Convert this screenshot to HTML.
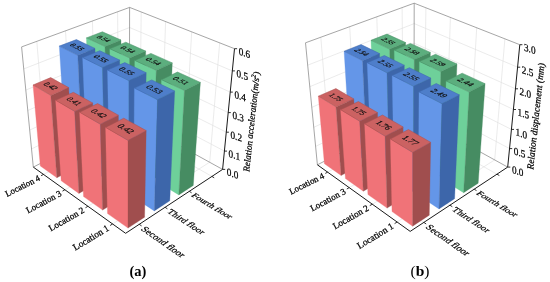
<!DOCTYPE html>
<html><head><meta charset="utf-8"><title>Figure</title>
<style>
html,body{margin:0;padding:0;background:#fff;}
svg{display:block;font-family:"Liberation Serif",serif;}
</style></head><body>
<svg width="550" height="282" viewBox="0 0 550 282">
<rect width="550" height="282" fill="#fff"/>
<g>
<polygon points="33.3,167.1 129.4,118.0 129.6,7.4 21.6,46.9" fill="#fff" stroke="none" stroke-width="0"/>
<polygon points="129.4,118.0 222.6,169.4 234.5,48.7 129.6,7.4" fill="#fff" stroke="none" stroke-width="0"/>
<polygon points="125.6,233.3 33.3,167.1 129.4,118.0 222.6,169.4" fill="#fff" stroke="none" stroke-width="0"/>
<line x1="46.7" y1="160.3" x2="36.8" y2="41.3" stroke="#dedede" stroke-width="0.6"/>
<line x1="209.7" y1="162.2" x2="219.7" y2="42.9" stroke="#dedede" stroke-width="0.6"/>
<line x1="112.5" y1="224.0" x2="209.7" y2="162.2" stroke="#dedede" stroke-width="0.6"/>
<line x1="139.2" y1="224.3" x2="46.7" y2="160.3" stroke="#dedede" stroke-width="0.6"/>
<line x1="72.1" y1="147.3" x2="65.5" y2="30.8" stroke="#dedede" stroke-width="0.6"/>
<line x1="184.9" y1="148.6" x2="191.7" y2="31.8" stroke="#dedede" stroke-width="0.6"/>
<line x1="87.9" y1="206.3" x2="184.9" y2="148.6" stroke="#dedede" stroke-width="0.6"/>
<line x1="165.1" y1="207.3" x2="72.1" y2="147.3" stroke="#dedede" stroke-width="0.6"/>
<line x1="96.0" y1="135.1" x2="92.4" y2="21.0" stroke="#dedede" stroke-width="0.6"/>
<line x1="161.7" y1="135.8" x2="165.6" y2="21.6" stroke="#dedede" stroke-width="0.6"/>
<line x1="64.9" y1="189.8" x2="161.7" y2="135.8" stroke="#dedede" stroke-width="0.6"/>
<line x1="189.3" y1="191.3" x2="96.0" y2="135.1" stroke="#dedede" stroke-width="0.6"/>
<line x1="118.6" y1="123.6" x2="117.6" y2="11.8" stroke="#dedede" stroke-width="0.6"/>
<line x1="139.9" y1="123.8" x2="141.2" y2="12.0" stroke="#dedede" stroke-width="0.6"/>
<line x1="43.5" y1="174.4" x2="139.9" y2="123.8" stroke="#dedede" stroke-width="0.6"/>
<line x1="211.9" y1="176.4" x2="118.6" y2="123.6" stroke="#dedede" stroke-width="0.6"/>
<line x1="31.6" y1="148.9" x2="129.4" y2="101.1" stroke="#dedede" stroke-width="0.6"/>
<line x1="129.4" y1="101.1" x2="224.4" y2="151.1" stroke="#dedede" stroke-width="0.6"/>
<line x1="29.7" y1="130.1" x2="129.5" y2="83.6" stroke="#dedede" stroke-width="0.6"/>
<line x1="129.5" y1="83.6" x2="226.3" y2="132.2" stroke="#dedede" stroke-width="0.6"/>
<line x1="27.8" y1="110.5" x2="129.5" y2="65.6" stroke="#dedede" stroke-width="0.6"/>
<line x1="129.5" y1="65.6" x2="228.2" y2="112.6" stroke="#dedede" stroke-width="0.6"/>
<line x1="25.8" y1="90.1" x2="129.5" y2="46.9" stroke="#dedede" stroke-width="0.6"/>
<line x1="129.5" y1="46.9" x2="230.2" y2="92.1" stroke="#dedede" stroke-width="0.6"/>
<line x1="23.8" y1="68.9" x2="129.6" y2="27.5" stroke="#dedede" stroke-width="0.6"/>
<line x1="129.6" y1="27.5" x2="232.3" y2="70.9" stroke="#dedede" stroke-width="0.6"/>
<line x1="33.3" y1="167.1" x2="21.6" y2="46.9" stroke="#7f7f7f" stroke-width="0.7"/>
<line x1="21.6" y1="46.9" x2="129.6" y2="7.4" stroke="#7f7f7f" stroke-width="0.7"/>
<line x1="129.6" y1="7.4" x2="234.5" y2="48.7" stroke="#7f7f7f" stroke-width="0.7"/>
<line x1="129.4" y1="118.0" x2="129.6" y2="7.4" stroke="#7f7f7f" stroke-width="0.7"/>
<line x1="33.3" y1="167.1" x2="129.4" y2="118.0" stroke="#7f7f7f" stroke-width="0.7"/>
<line x1="129.4" y1="118.0" x2="222.6" y2="169.4" stroke="#7f7f7f" stroke-width="0.7"/>
<polygon points="90.3,140.3 107.1,150.7 105.0,46.5 86.4,37.9" fill="#6ED09A" stroke="#6ED09A" stroke-width="0.3"/>
<polygon points="107.1,150.7 121.6,142.9 121.0,40.0 105.0,46.5" fill="#468C62" stroke="#468C62" stroke-width="0.3"/>
<polygon points="86.4,37.9 102.4,31.8 121.0,40.0 105.0,46.5" fill="#5CAE7E" stroke="#489066" stroke-width="0.5"/>
<text transform="matrix(0.6322,0.2878,-0.7010,0.2759,103.65,38.77)" x="0" y="3.3" font-size="10" text-anchor="middle" fill="#111" stroke="#111" stroke-width="0.3">0.54</text>
<polygon points="111.5,153.4 129.5,164.5 129.7,58.0 109.8,48.8" fill="#6ED09A" stroke="#6ED09A" stroke-width="0.3"/>
<polygon points="129.5,164.5 144.0,156.2 145.7,51.1 129.7,58.0" fill="#468C62" stroke="#468C62" stroke-width="0.3"/>
<polygon points="109.8,48.8 125.8,42.2 145.7,51.1 129.7,58.0" fill="#5CAE7E" stroke="#489066" stroke-width="0.5"/>
<text transform="matrix(0.6777,0.3085,-0.7036,0.2957,127.68,49.71)" x="0" y="3.3" font-size="10" text-anchor="middle" fill="#111" stroke="#111" stroke-width="0.3">0.54</text>
<polygon points="134.1,167.3 153.3,179.2 156.2,70.4 134.8,60.4" fill="#6ED09A" stroke="#6ED09A" stroke-width="0.3"/>
<polygon points="153.3,179.2 167.8,170.3 172.3,62.9 156.2,70.4" fill="#468C62" stroke="#468C62" stroke-width="0.3"/>
<polygon points="134.8,60.4 150.9,53.4 172.3,62.9 156.2,70.4" fill="#5CAE7E" stroke="#489066" stroke-width="0.5"/>
<text transform="matrix(0.7283,0.3316,-0.7047,0.3177,153.47,61.45)" x="0" y="3.3" font-size="10" text-anchor="middle" fill="#111" stroke="#111" stroke-width="0.3">0.54</text>
<polygon points="158.2,182.2 178.8,194.9 184.4,90.5 161.5,79.7" fill="#6ED09A" stroke="#6ED09A" stroke-width="0.3"/>
<polygon points="178.8,194.9 193.3,185.4 200.4,82.4 184.4,90.5" fill="#468C62" stroke="#468C62" stroke-width="0.3"/>
<polygon points="161.5,79.7 177.5,72.0 200.4,82.4 184.4,90.5" fill="#5CAE7E" stroke="#489066" stroke-width="0.5"/>
<text transform="matrix(0.7794,0.3619,-0.6997,0.3468,180.89,80.82)" x="0" y="3.3" font-size="10" text-anchor="middle" fill="#111" stroke="#111" stroke-width="0.3">0.51</text>
<polygon points="66.0,152.8 82.8,163.8 77.8,55.3 59.3,46.1" fill="#6496E8" stroke="#6496E8" stroke-width="0.3"/>
<polygon points="82.8,163.8 98.2,155.5 95.0,48.4 77.8,55.3" fill="#3D66AA" stroke="#3D66AA" stroke-width="0.3"/>
<polygon points="59.3,46.1 76.4,39.6 95.0,48.4 77.8,55.3" fill="#4E7ECA" stroke="#3F69AE" stroke-width="0.5"/>
<text transform="matrix(0.6293,0.3060,-0.7505,0.2933,77.09,47.03)" x="0" y="3.3" font-size="10" text-anchor="middle" fill="#111" stroke="#111" stroke-width="0.3">0.55</text>
<polygon points="87.1,166.7 105.0,178.5 102.4,67.5 82.6,57.6" fill="#6496E8" stroke="#6496E8" stroke-width="0.3"/>
<polygon points="105.0,178.5 120.5,169.6 119.7,60.1 102.4,67.5" fill="#3D66AA" stroke="#3D66AA" stroke-width="0.3"/>
<polygon points="82.6,57.6 99.8,50.7 119.7,60.1 102.4,67.5" fill="#4E7ECA" stroke="#3F69AE" stroke-width="0.5"/>
<text transform="matrix(0.6762,0.3289,-0.7550,0.3152,101.03,58.67)" x="0" y="3.3" font-size="10" text-anchor="middle" fill="#111" stroke="#111" stroke-width="0.3">0.55</text>
<polygon points="109.6,181.5 128.8,194.1 128.9,80.7 107.5,70.1" fill="#6496E8" stroke="#6496E8" stroke-width="0.3"/>
<polygon points="128.8,194.1 144.3,184.7 146.2,72.7 128.9,80.7" fill="#3D66AA" stroke="#3D66AA" stroke-width="0.3"/>
<polygon points="107.5,70.1 124.8,62.6 146.2,72.7 128.9,80.7" fill="#4E7ECA" stroke="#3F69AE" stroke-width="0.5"/>
<text transform="matrix(0.7287,0.3544,-0.7581,0.3396,126.80,71.21)" x="0" y="3.3" font-size="10" text-anchor="middle" fill="#111" stroke="#111" stroke-width="0.3">0.55</text>
<polygon points="133.7,197.4 154.3,210.9 157.5,99.7 134.4,88.1" fill="#6496E8" stroke="#6496E8" stroke-width="0.3"/>
<polygon points="154.3,210.9 169.8,200.8 174.7,91.0 157.5,99.7" fill="#3D66AA" stroke="#3D66AA" stroke-width="0.3"/>
<polygon points="134.4,88.1 151.7,79.9 174.7,91.0 157.5,99.7" fill="#4E7ECA" stroke="#3F69AE" stroke-width="0.5"/>
<text transform="matrix(0.7839,0.3863,-0.7561,0.3701,154.49,89.37)" x="0" y="3.3" font-size="10" text-anchor="middle" fill="#111" stroke="#111" stroke-width="0.3">0.53</text>
<polygon points="40.3,166.0 56.9,177.8 50.8,95.4 33.0,85.0" fill="#F07378" stroke="#F07378" stroke-width="0.3"/>
<polygon points="56.9,177.8 73.3,168.9 68.7,87.6 50.8,95.4" fill="#A04E4E" stroke="#A04E4E" stroke-width="0.3"/>
<polygon points="33.0,85.0 50.7,77.6 68.7,87.6 50.8,95.4" fill="#CB6262" stroke="#A85050" stroke-width="0.5"/>
<text transform="matrix(0.6088,0.3464,-0.7809,0.3319,50.77,86.08)" x="0" y="3.3" font-size="10" text-anchor="middle" fill="#111" stroke="#111" stroke-width="0.3">0.42</text>
<polygon points="61.2,180.8 78.9,193.4 74.7,111.4 55.6,100.2" fill="#F07378" stroke="#F07378" stroke-width="0.3"/>
<polygon points="78.9,193.4 95.4,183.9 92.7,103.0 74.7,111.4" fill="#A04E4E" stroke="#A04E4E" stroke-width="0.3"/>
<polygon points="55.6,100.2 73.4,92.3 92.7,103.0 74.7,111.4" fill="#CB6262" stroke="#A85050" stroke-width="0.5"/>
<text transform="matrix(0.6534,0.3738,-0.7857,0.3582,74.06,101.40)" x="0" y="3.3" font-size="10" text-anchor="middle" fill="#111" stroke="#111" stroke-width="0.3">0.41</text>
<polygon points="83.5,196.6 102.6,210.1 100.3,124.2 79.6,112.2" fill="#F07378" stroke="#F07378" stroke-width="0.3"/>
<polygon points="102.6,210.1 119.2,200.0 118.4,115.2 100.3,124.2" fill="#A04E4E" stroke="#A04E4E" stroke-width="0.3"/>
<polygon points="79.6,112.2 97.6,103.6 118.4,115.2 100.3,124.2" fill="#CB6262" stroke="#A85050" stroke-width="0.5"/>
<text transform="matrix(0.7058,0.4016,-0.7926,0.3848,98.90,113.46)" x="0" y="3.3" font-size="10" text-anchor="middle" fill="#111" stroke="#111" stroke-width="0.3">0.42</text>
<polygon points="107.5,213.6 128.0,228.1 128.0,140.4 105.6,127.4" fill="#F07378" stroke="#F07378" stroke-width="0.3"/>
<polygon points="128.0,228.1 144.6,217.2 146.2,130.6 128.0,140.4" fill="#A04E4E" stroke="#A04E4E" stroke-width="0.3"/>
<polygon points="105.6,127.4 123.8,118.2 146.2,130.6 128.0,140.4" fill="#CB6262" stroke="#A85050" stroke-width="0.5"/>
<text transform="matrix(0.7633,0.4343,-0.7961,0.4161,125.84,128.79)" x="0" y="3.3" font-size="10" text-anchor="middle" fill="#111" stroke="#111" stroke-width="0.3">0.42</text>
<line x1="33.3" y1="167.1" x2="125.6" y2="233.3" stroke="#1a1a1a" stroke-width="1"/>
<line x1="125.6" y1="233.3" x2="222.6" y2="169.4" stroke="#1a1a1a" stroke-width="1"/>
<line x1="222.6" y1="169.4" x2="234.5" y2="48.7" stroke="#1a1a1a" stroke-width="1"/>
<line x1="112.5" y1="224.0" x2="110.1" y2="225.5" stroke="#1a1a1a" stroke-width="0.9"/>
<text transform="translate(109.7,229.8) rotate(-31.4)" font-size="9.40" text-anchor="end" stroke="#000" stroke-width="0.25">Location 1</text>
<line x1="139.2" y1="224.3" x2="141.6" y2="225.9" stroke="#1a1a1a" stroke-width="0.9"/>
<text transform="matrix(0.7920,0.5526,-0.7941,0.5294,140.37,229.50)" font-size="10"  stroke="#000" stroke-width="0.25">Second floor</text>
<line x1="87.9" y1="206.3" x2="85.5" y2="207.7" stroke="#1a1a1a" stroke-width="0.9"/>
<text transform="translate(85.1,212.0) rotate(-29.7)" font-size="9.17" text-anchor="end" stroke="#000" stroke-width="0.25">Location 2</text>
<line x1="165.1" y1="207.3" x2="167.4" y2="208.8" stroke="#1a1a1a" stroke-width="0.9"/>
<text transform="matrix(0.7923,0.5147,-0.7399,0.4933,166.48,212.09)" font-size="10"  stroke="#000" stroke-width="0.25">Third floor</text>
<line x1="64.9" y1="189.8" x2="62.5" y2="191.1" stroke="#1a1a1a" stroke-width="0.9"/>
<text transform="translate(62.1,195.4) rotate(-28.1)" font-size="8.96" text-anchor="end" stroke="#000" stroke-width="0.25">Location 3</text>
<line x1="189.3" y1="191.3" x2="191.6" y2="192.8" stroke="#1a1a1a" stroke-width="0.9"/>
<text transform="matrix(0.7907,0.4807,-0.6910,0.4607,190.83,195.86)" font-size="10"  stroke="#000" stroke-width="0.25">Fourth floor</text>
<line x1="43.5" y1="174.4" x2="41.1" y2="175.7" stroke="#1a1a1a" stroke-width="0.9"/>
<text transform="translate(40.7,180.0) rotate(-26.7)" font-size="8.77" text-anchor="end" stroke="#000" stroke-width="0.25">Location 4</text>
<line x1="211.9" y1="176.4" x2="214.2" y2="177.8" stroke="#1a1a1a" stroke-width="0.9"/>
<line x1="222.6" y1="169.4" x2="225.2" y2="169.4" stroke="#1a1a1a" stroke-width="0.9"/>
<text transform="matrix(0.87,0.29,0,1,226.8,175.1)" font-size="10.6" stroke="#000" stroke-width="0.25">0.0</text>
<line x1="224.4" y1="151.1" x2="227.0" y2="151.1" stroke="#1a1a1a" stroke-width="0.9"/>
<text transform="matrix(0.87,0.29,0,1,228.6,156.8)" font-size="10.6" stroke="#000" stroke-width="0.25">0.1</text>
<line x1="226.3" y1="132.2" x2="228.9" y2="132.2" stroke="#1a1a1a" stroke-width="0.9"/>
<text transform="matrix(0.87,0.29,0,1,230.5,137.9)" font-size="10.6" stroke="#000" stroke-width="0.25">0.2</text>
<line x1="228.2" y1="112.6" x2="230.8" y2="112.6" stroke="#1a1a1a" stroke-width="0.9"/>
<text transform="matrix(0.87,0.29,0,1,232.4,118.3)" font-size="10.6" stroke="#000" stroke-width="0.25">0.3</text>
<line x1="230.2" y1="92.1" x2="232.8" y2="92.1" stroke="#1a1a1a" stroke-width="0.9"/>
<text transform="matrix(0.87,0.29,0,1,234.4,97.8)" font-size="10.6" stroke="#000" stroke-width="0.25">0.4</text>
<line x1="232.3" y1="70.9" x2="234.9" y2="70.9" stroke="#1a1a1a" stroke-width="0.9"/>
<text transform="matrix(0.87,0.29,0,1,236.5,76.6)" font-size="10.6" stroke="#000" stroke-width="0.25">0.5</text>
<line x1="234.5" y1="48.7" x2="237.1" y2="48.7" stroke="#1a1a1a" stroke-width="0.9"/>
<text transform="matrix(0.87,0.29,0,1,238.7,54.4)" font-size="10.6" stroke="#000" stroke-width="0.25">0.6</text>
<text transform="translate(254.4,122.0) rotate(-84)" font-size="9.1" font-style="italic" text-anchor="middle" stroke="#000" stroke-width="0.25">Relation acceleration(m/s<tspan font-size="6.5" dy="-3.5">2</tspan><tspan dy="3.5">)</tspan></text>
</g>
<g>
<polygon points="317.4,164.8 414.0,115.4 414.2,3.2 305.5,42.8" fill="#fff" stroke="none" stroke-width="0"/>
<polygon points="414.0,115.4 507.7,167.1 519.8,44.7 414.2,3.2" fill="#fff" stroke="none" stroke-width="0"/>
<polygon points="410.2,231.4 317.4,164.8 414.0,115.4 507.7,167.1" fill="#fff" stroke="none" stroke-width="0"/>
<line x1="330.8" y1="157.9" x2="320.8" y2="37.3" stroke="#dedede" stroke-width="0.6"/>
<line x1="494.7" y1="159.9" x2="504.9" y2="38.8" stroke="#dedede" stroke-width="0.6"/>
<line x1="397.1" y1="222.0" x2="494.7" y2="159.9" stroke="#dedede" stroke-width="0.6"/>
<line x1="423.9" y1="222.4" x2="330.8" y2="157.9" stroke="#dedede" stroke-width="0.6"/>
<line x1="356.4" y1="144.9" x2="349.7" y2="26.7" stroke="#dedede" stroke-width="0.6"/>
<line x1="469.8" y1="146.2" x2="476.7" y2="27.8" stroke="#dedede" stroke-width="0.6"/>
<line x1="372.3" y1="204.2" x2="469.8" y2="146.2" stroke="#dedede" stroke-width="0.6"/>
<line x1="449.9" y1="205.2" x2="356.4" y2="144.9" stroke="#dedede" stroke-width="0.6"/>
<line x1="380.5" y1="132.6" x2="376.8" y2="16.9" stroke="#dedede" stroke-width="0.6"/>
<line x1="446.5" y1="133.3" x2="450.4" y2="17.4" stroke="#dedede" stroke-width="0.6"/>
<line x1="349.2" y1="187.6" x2="446.5" y2="133.3" stroke="#dedede" stroke-width="0.6"/>
<line x1="474.2" y1="189.2" x2="380.5" y2="132.6" stroke="#dedede" stroke-width="0.6"/>
<line x1="403.2" y1="121.0" x2="402.1" y2="7.6" stroke="#dedede" stroke-width="0.6"/>
<line x1="424.5" y1="121.2" x2="425.9" y2="7.8" stroke="#dedede" stroke-width="0.6"/>
<line x1="327.7" y1="172.1" x2="424.5" y2="121.2" stroke="#dedede" stroke-width="0.6"/>
<line x1="496.9" y1="174.2" x2="403.2" y2="121.0" stroke="#dedede" stroke-width="0.6"/>
<line x1="315.6" y1="146.4" x2="414.1" y2="98.3" stroke="#dedede" stroke-width="0.6"/>
<line x1="414.1" y1="98.3" x2="509.6" y2="148.6" stroke="#dedede" stroke-width="0.6"/>
<line x1="313.8" y1="127.3" x2="414.1" y2="80.6" stroke="#dedede" stroke-width="0.6"/>
<line x1="414.1" y1="80.6" x2="511.4" y2="129.4" stroke="#dedede" stroke-width="0.6"/>
<line x1="311.8" y1="107.4" x2="414.1" y2="62.2" stroke="#dedede" stroke-width="0.6"/>
<line x1="414.1" y1="62.2" x2="513.4" y2="109.5" stroke="#dedede" stroke-width="0.6"/>
<line x1="309.8" y1="86.7" x2="414.1" y2="43.2" stroke="#dedede" stroke-width="0.6"/>
<line x1="414.1" y1="43.2" x2="515.4" y2="88.8" stroke="#dedede" stroke-width="0.6"/>
<line x1="307.7" y1="65.2" x2="414.2" y2="23.6" stroke="#dedede" stroke-width="0.6"/>
<line x1="414.2" y1="23.6" x2="517.6" y2="67.2" stroke="#dedede" stroke-width="0.6"/>
<line x1="317.4" y1="164.8" x2="305.5" y2="42.8" stroke="#7f7f7f" stroke-width="0.7"/>
<line x1="305.5" y1="42.8" x2="414.2" y2="3.2" stroke="#7f7f7f" stroke-width="0.7"/>
<line x1="414.2" y1="3.2" x2="519.8" y2="44.7" stroke="#7f7f7f" stroke-width="0.7"/>
<line x1="414.0" y1="115.4" x2="414.2" y2="3.2" stroke="#7f7f7f" stroke-width="0.7"/>
<line x1="317.4" y1="164.8" x2="414.0" y2="115.4" stroke="#7f7f7f" stroke-width="0.7"/>
<line x1="414.0" y1="115.4" x2="507.7" y2="167.1" stroke="#7f7f7f" stroke-width="0.7"/>
<polygon points="374.7,137.8 391.6,148.3 389.6,49.1 371.0,40.3" fill="#6ED09A" stroke="#6ED09A" stroke-width="0.3"/>
<polygon points="391.6,148.3 406.2,140.5 405.6,42.5 389.6,49.1" fill="#468C62" stroke="#468C62" stroke-width="0.3"/>
<polygon points="371.0,40.3 387.0,34.1 405.6,42.5 389.6,49.1" fill="#5CAE7E" stroke="#489066" stroke-width="0.5"/>
<text transform="matrix(0.6326,0.2934,-0.7012,0.2812,388.24,41.19)" x="0" y="3.3" font-size="10" text-anchor="middle" fill="#111" stroke="#111" stroke-width="0.3">2.55</text>
<polygon points="396.0,151.0 414.1,162.2 414.3,59.5 394.3,50.1" fill="#6ED09A" stroke="#6ED09A" stroke-width="0.3"/>
<polygon points="414.1,162.2 428.7,153.8 430.4,52.4 414.3,59.5" fill="#468C62" stroke="#468C62" stroke-width="0.3"/>
<polygon points="394.3,50.1 410.4,43.4 430.4,52.4 414.3,59.5" fill="#5CAE7E" stroke="#489066" stroke-width="0.5"/>
<text transform="matrix(0.6787,0.3135,-0.7046,0.3005,412.28,51.05)" x="0" y="3.3" font-size="10" text-anchor="middle" fill="#111" stroke="#111" stroke-width="0.3">2.58</text>
<polygon points="418.7,165.0 438.0,176.9 440.8,71.6 419.4,61.5" fill="#6ED09A" stroke="#6ED09A" stroke-width="0.3"/>
<polygon points="438.0,176.9 452.6,168.0 457.0,64.0 440.8,71.6" fill="#468C62" stroke="#468C62" stroke-width="0.3"/>
<polygon points="419.4,61.5 435.5,54.3 457.0,64.0 440.8,71.6" fill="#5CAE7E" stroke="#489066" stroke-width="0.5"/>
<text transform="matrix(0.7294,0.3365,-0.7059,0.3225,438.11,62.54)" x="0" y="3.3" font-size="10" text-anchor="middle" fill="#111" stroke="#111" stroke-width="0.3">2.59</text>
<polygon points="443.0,180.0 463.6,192.7 469.1,92.0 446.2,81.0" fill="#6ED09A" stroke="#6ED09A" stroke-width="0.3"/>
<polygon points="463.6,192.7 478.2,183.2 485.1,83.7 469.1,92.0" fill="#468C62" stroke="#468C62" stroke-width="0.3"/>
<polygon points="446.2,81.0 462.2,73.2 485.1,83.7 469.1,92.0" fill="#5CAE7E" stroke="#489066" stroke-width="0.5"/>
<text transform="matrix(0.7803,0.3671,-0.7010,0.3518,465.56,82.14)" x="0" y="3.3" font-size="10" text-anchor="middle" fill="#111" stroke="#111" stroke-width="0.3">2.44</text>
<polygon points="350.3,150.4 367.2,161.5 362.5,60.7 344.1,51.3" fill="#6496E8" stroke="#6496E8" stroke-width="0.3"/>
<polygon points="367.2,161.5 382.6,153.2 379.6,53.6 362.5,60.7" fill="#3D66AA" stroke="#3D66AA" stroke-width="0.3"/>
<polygon points="344.1,51.3 361.1,44.6 379.6,53.6 362.5,60.7" fill="#4E7ECA" stroke="#3F69AE" stroke-width="0.5"/>
<text transform="matrix(0.6283,0.3137,-0.7485,0.3006,361.80,52.24)" x="0" y="3.3" font-size="10" text-anchor="middle" fill="#111" stroke="#111" stroke-width="0.3">2.54</text>
<polygon points="371.5,164.4 389.5,176.2 387.0,72.8 367.2,62.7" fill="#6496E8" stroke="#6496E8" stroke-width="0.3"/>
<polygon points="389.5,176.2 405.0,167.3 404.3,65.2 387.0,72.8" fill="#3D66AA" stroke="#3D66AA" stroke-width="0.3"/>
<polygon points="367.2,62.7 384.4,55.5 404.3,65.2 387.0,72.8" fill="#4E7ECA" stroke="#3F69AE" stroke-width="0.5"/>
<text transform="matrix(0.6751,0.3366,-0.7533,0.3225,385.69,63.73)" x="0" y="3.3" font-size="10" text-anchor="middle" fill="#111" stroke="#111" stroke-width="0.3">2.55</text>
<polygon points="394.1,179.3 413.4,192.0 413.5,86.3 392.2,75.4" fill="#6496E8" stroke="#6496E8" stroke-width="0.3"/>
<polygon points="413.4,192.0 429.0,182.5 430.8,78.1 413.5,86.3" fill="#3D66AA" stroke="#3D66AA" stroke-width="0.3"/>
<polygon points="392.2,75.4 409.4,67.7 430.8,78.1 413.5,86.3" fill="#4E7ECA" stroke="#3F69AE" stroke-width="0.5"/>
<text transform="matrix(0.7270,0.3625,-0.7564,0.3473,411.41,76.55)" x="0" y="3.3" font-size="10" text-anchor="middle" fill="#111" stroke="#111" stroke-width="0.3">2.55</text>
<polygon points="418.4,195.3 439.0,208.9 442.0,103.7 419.0,91.9" fill="#6496E8" stroke="#6496E8" stroke-width="0.3"/>
<polygon points="439.0,208.9 454.6,198.7 459.3,94.8 442.0,103.7" fill="#3D66AA" stroke="#3D66AA" stroke-width="0.3"/>
<polygon points="419.0,91.9 436.3,83.5 459.3,94.8 442.0,103.7" fill="#4E7ECA" stroke="#3F69AE" stroke-width="0.5"/>
<text transform="matrix(0.7830,0.3934,-0.7557,0.3769,439.07,93.16)" x="0" y="3.3" font-size="10" text-anchor="middle" fill="#111" stroke="#111" stroke-width="0.3">2.49</text>
<polygon points="324.4,163.7 341.1,175.5 336.0,106.9 318.3,96.2" fill="#F07378" stroke="#F07378" stroke-width="0.3"/>
<polygon points="341.1,175.5 357.6,166.6 353.8,98.9 336.0,106.9" fill="#A04E4E" stroke="#A04E4E" stroke-width="0.3"/>
<polygon points="318.3,96.2 335.9,88.6 353.8,98.9 336.0,106.9" fill="#CB6262" stroke="#A85050" stroke-width="0.5"/>
<text transform="matrix(0.6049,0.3575,-0.7737,0.3426,335.99,97.31)" x="0" y="3.3" font-size="10" text-anchor="middle" fill="#111" stroke="#111" stroke-width="0.3">1.75</text>
<polygon points="345.4,178.6 363.3,191.2 359.7,121.2 340.6,109.7" fill="#F07378" stroke="#F07378" stroke-width="0.3"/>
<polygon points="363.3,191.2 379.9,181.7 377.5,112.6 359.7,121.2" fill="#A04E4E" stroke="#A04E4E" stroke-width="0.3"/>
<polygon points="340.6,109.7 358.4,101.5 377.5,112.6 359.7,121.2" fill="#CB6262" stroke="#A85050" stroke-width="0.5"/>
<text transform="matrix(0.6498,0.3840,-0.7800,0.3679,359.01,110.91)" x="0" y="3.3" font-size="10" text-anchor="middle" fill="#111" stroke="#111" stroke-width="0.3">1.75</text>
<polygon points="367.9,194.5 387.1,208.1 385.1,136.2 364.6,123.8" fill="#F07378" stroke="#F07378" stroke-width="0.3"/>
<polygon points="387.1,208.1 403.7,197.9 403.1,126.9 385.1,136.2" fill="#A04E4E" stroke="#A04E4E" stroke-width="0.3"/>
<polygon points="364.6,123.8 382.5,115.0 403.1,126.9 385.1,136.2" fill="#CB6262" stroke="#A85050" stroke-width="0.5"/>
<text transform="matrix(0.7002,0.4133,-0.7854,0.3960,383.75,125.11)" x="0" y="3.3" font-size="10" text-anchor="middle" fill="#111" stroke="#111" stroke-width="0.3">1.76</text>
<polygon points="392.0,211.6 412.6,226.2 412.6,152.4 390.4,139.0" fill="#F07378" stroke="#F07378" stroke-width="0.3"/>
<polygon points="412.6,226.2 429.3,215.2 430.7,142.3 412.6,152.4" fill="#A04E4E" stroke="#A04E4E" stroke-width="0.3"/>
<polygon points="390.4,139.0 408.4,129.5 430.7,142.3 412.6,152.4" fill="#CB6262" stroke="#A85050" stroke-width="0.5"/>
<text transform="matrix(0.7566,0.4462,-0.7891,0.4274,410.46,140.43)" x="0" y="3.3" font-size="10" text-anchor="middle" fill="#111" stroke="#111" stroke-width="0.3">1.77</text>
<line x1="317.4" y1="164.8" x2="410.2" y2="231.4" stroke="#1a1a1a" stroke-width="1"/>
<line x1="410.2" y1="231.4" x2="507.7" y2="167.1" stroke="#1a1a1a" stroke-width="1"/>
<line x1="507.7" y1="167.1" x2="519.8" y2="44.7" stroke="#1a1a1a" stroke-width="1"/>
<line x1="397.1" y1="222.0" x2="394.6" y2="223.6" stroke="#1a1a1a" stroke-width="0.9"/>
<text transform="translate(394.2,227.9) rotate(-31.5)" font-size="9.45" text-anchor="end" stroke="#000" stroke-width="0.25">Location 1</text>
<line x1="423.9" y1="222.4" x2="426.2" y2="224.0" stroke="#1a1a1a" stroke-width="0.9"/>
<text transform="matrix(0.7962,0.5560,-0.7983,0.5327,425.04,227.58)" font-size="10"  stroke="#000" stroke-width="0.25">Second floor</text>
<line x1="372.3" y1="204.2" x2="369.8" y2="205.6" stroke="#1a1a1a" stroke-width="0.9"/>
<text transform="translate(369.4,209.9) rotate(-29.7)" font-size="9.22" text-anchor="end" stroke="#000" stroke-width="0.25">Location 2</text>
<line x1="449.9" y1="205.2" x2="452.3" y2="206.7" stroke="#1a1a1a" stroke-width="0.9"/>
<text transform="matrix(0.7964,0.5180,-0.7438,0.4964,451.28,210.06)" font-size="10"  stroke="#000" stroke-width="0.25">Third floor</text>
<line x1="349.2" y1="187.6" x2="346.8" y2="189.0" stroke="#1a1a1a" stroke-width="0.9"/>
<text transform="translate(346.4,193.3) rotate(-28.2)" font-size="9.01" text-anchor="end" stroke="#000" stroke-width="0.25">Location 3</text>
<line x1="474.2" y1="189.2" x2="476.5" y2="190.6" stroke="#1a1a1a" stroke-width="0.9"/>
<text transform="matrix(0.7948,0.4837,-0.6947,0.4636,475.76,193.73)" font-size="10"  stroke="#000" stroke-width="0.25">Fourth floor</text>
<line x1="327.7" y1="172.1" x2="325.3" y2="173.4" stroke="#1a1a1a" stroke-width="0.9"/>
<text transform="translate(324.9,177.7) rotate(-26.7)" font-size="8.81" text-anchor="end" stroke="#000" stroke-width="0.25">Location 4</text>
<line x1="496.9" y1="174.2" x2="499.3" y2="175.5" stroke="#1a1a1a" stroke-width="0.9"/>
<line x1="507.7" y1="167.1" x2="510.3" y2="167.1" stroke="#1a1a1a" stroke-width="0.9"/>
<text transform="matrix(0.87,0.29,0,1,511.9,172.8)" font-size="10.6" stroke="#000" stroke-width="0.25">0.0</text>
<line x1="509.6" y1="148.6" x2="512.2" y2="148.6" stroke="#1a1a1a" stroke-width="0.9"/>
<text transform="matrix(0.87,0.29,0,1,513.8,154.3)" font-size="10.6" stroke="#000" stroke-width="0.25">0.5</text>
<line x1="511.4" y1="129.4" x2="514.0" y2="129.4" stroke="#1a1a1a" stroke-width="0.9"/>
<text transform="matrix(0.87,0.29,0,1,515.6,135.1)" font-size="10.6" stroke="#000" stroke-width="0.25">1.0</text>
<line x1="513.4" y1="109.5" x2="516.0" y2="109.5" stroke="#1a1a1a" stroke-width="0.9"/>
<text transform="matrix(0.87,0.29,0,1,517.6,115.2)" font-size="10.6" stroke="#000" stroke-width="0.25">1.5</text>
<line x1="515.4" y1="88.8" x2="518.0" y2="88.8" stroke="#1a1a1a" stroke-width="0.9"/>
<text transform="matrix(0.87,0.29,0,1,519.6,94.5)" font-size="10.6" stroke="#000" stroke-width="0.25">2.0</text>
<line x1="517.6" y1="67.2" x2="520.2" y2="67.2" stroke="#1a1a1a" stroke-width="0.9"/>
<text transform="matrix(0.87,0.29,0,1,521.8,72.9)" font-size="10.6" stroke="#000" stroke-width="0.25">2.5</text>
<line x1="519.8" y1="44.7" x2="522.4" y2="44.7" stroke="#1a1a1a" stroke-width="0.9"/>
<text transform="matrix(0.87,0.29,0,1,524.0,50.4)" font-size="10.6" stroke="#000" stroke-width="0.25">3.0</text>
<text transform="translate(538.9,116.5) rotate(-83.9)" font-size="9.5" font-style="italic" text-anchor="middle" stroke="#000" stroke-width="0.25">Relation displacement (mm)</text>
</g>
<text x="137.9" y="275.8" font-size="14.5" font-weight="bold" text-anchor="middle">(a)</text>
<text x="420" y="275.6" font-size="15.5" text-anchor="middle">(<tspan font-weight="bold">b</tspan>)</text>
</svg>
</body></html>
